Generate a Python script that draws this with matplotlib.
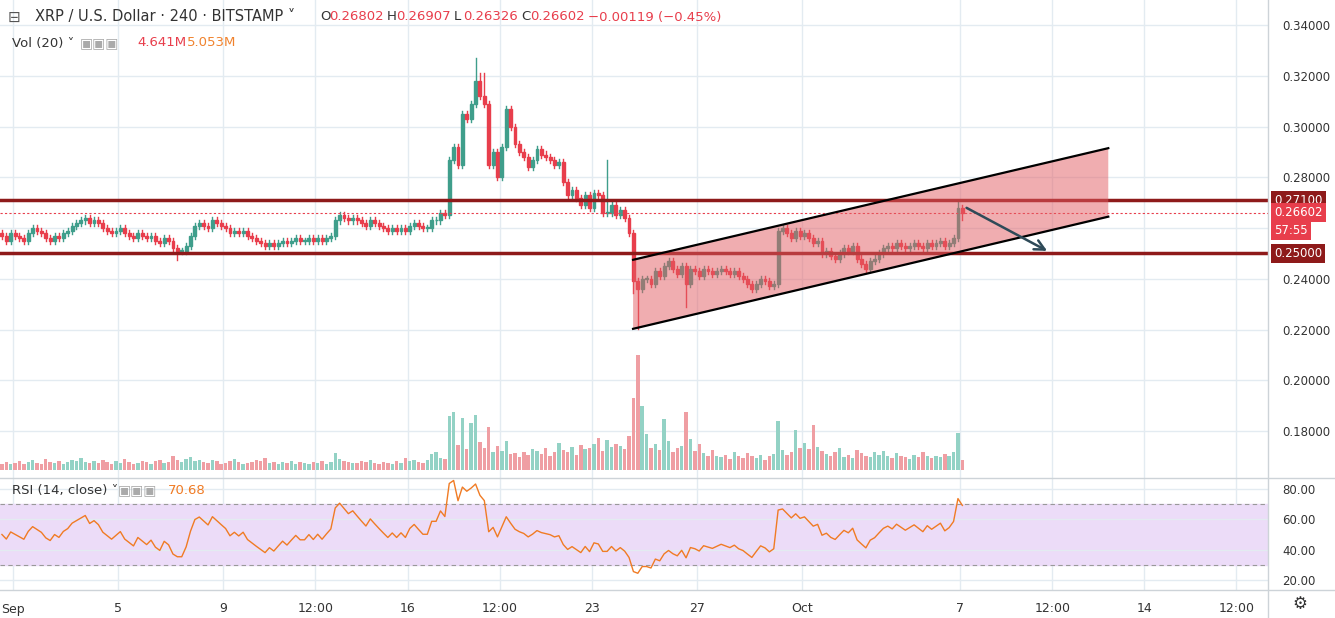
import numpy as np
import matplotlib
matplotlib.use("Agg")
import matplotlib.pyplot as plt
from matplotlib.patches import Rectangle, Polygon

# ---- data: 4h closes starting Aug 31 12:00 ----
closes = [
 0.257, 0.255, 0.258,
 0.257,0.256,0.255,0.258,0.260,0.259,
 0.258,0.256,0.255,0.257,0.256,0.258,
 0.259,0.261,0.262,0.263,0.264,0.262,
 0.263,0.262,0.260,0.259,0.258,0.259,
 0.260,0.258,0.257,0.256,0.258,0.257,
 0.256,0.257,0.255,0.254,0.256,0.255,
 0.252,0.251,0.251,0.253,0.257,0.261,
 0.262,0.261,0.260,0.263,0.262,0.261,
 0.260,0.258,0.259,0.258,0.259,0.257,
 0.256,0.255,0.254,0.253,0.254,0.253,
 0.254,0.255,0.254,0.255,0.256,0.255,
 0.255,0.256,0.255,0.256,0.255,0.256,
 0.257,0.263,0.265,0.264,0.263,0.264,
 0.263,0.262,0.261,0.263,0.262,0.261,
 0.260,0.259,0.260,0.259,0.260,0.259,
 0.261,0.262,0.261,0.260,0.260,0.263,
 0.263,0.266,0.265,0.287,0.292,0.285,
 0.305,0.303,0.309,0.318,0.312,0.309,
 0.285,0.290,0.280,0.292,0.307,0.300,
 0.293,0.290,0.288,0.284,0.287,0.291,
 0.289,0.288,0.287,0.285,0.286,0.278,
 0.273,0.275,0.272,0.269,0.273,0.268,
 0.274,0.273,0.266,0.266,0.269,0.265,
 0.267,0.264,0.258,0.239,0.236,0.240,
 0.240,0.238,0.243,0.241,0.245,0.247,
 0.244,0.242,0.245,0.238,0.244,0.243,
 0.241,0.244,0.243,0.242,0.243,0.244,
 0.243,0.242,0.243,0.241,0.240,0.238,
 0.236,0.238,0.240,0.239,0.237,0.238,
 0.259,0.260,0.258,0.256,0.259,0.257,
 0.258,0.256,0.254,0.255,0.250,0.251,
 0.249,0.248,0.250,0.252,0.251,0.253,
 0.248,0.246,0.244,0.247,0.248,0.250,
 0.252,0.253,0.252,0.254,0.253,0.252,
 0.253,0.254,0.253,0.252,0.254,0.253,
 0.254,0.255,0.253,0.254,0.256,0.268,
 0.26602,
]
first_open = 0.258
last_open = 0.26802
# notable wicks: index -> (high, low)
wick_overrides = {40: (None, 0.2475), 108: (0.327, None), 109: (0.321, None),
                  110: (0.321, None), 138: (0.287, None), 144: (None, 0.2345),
                  145: (None, 0.2203), 156: (None, 0.229), 218: (0.271, None),
                  219: (0.26907, 0.26326)}
default_wick = 0.0012

volumes = [
 0.8, 1.0, 0.7,
 0.9,1.1,0.8,1.0,1.3,0.9,
 0.8,1.4,1.0,0.9,1.1,0.8,
 1.0,1.3,1.1,1.5,1.0,0.9,
 1.1,0.9,1.2,1.0,0.8,1.1,
 0.9,1.4,1.0,0.8,0.9,1.1,
 1.0,0.8,1.1,1.3,0.9,1.0,
 1.8,1.2,1.0,1.4,1.6,1.1,
 1.3,1.0,0.9,1.2,1.1,0.8,
 0.9,1.1,1.4,1.0,0.8,0.9,
 1.0,1.3,1.1,1.5,0.9,1.0,
 0.8,1.0,0.9,1.1,0.8,1.0,
 0.9,0.8,1.0,0.9,1.1,0.8,
 1.0,2.1,1.4,1.1,1.0,0.9,
 0.9,1.1,1.0,1.2,0.9,0.8,
 1.0,0.9,0.8,1.1,0.9,1.5,
 1.1,1.3,1.0,0.9,1.2,2.0,
 2.2,1.5,1.4,6.8,7.2,3.1,
 6.5,2.6,5.9,6.9,3.5,2.8,
 5.4,2.2,3.0,2.4,3.6,2.0,
 2.1,1.6,2.3,1.9,2.6,2.4,
 2.0,2.7,1.8,2.3,3.4,2.5,
 2.2,2.9,1.9,3.1,2.6,2.8,
 3.2,4.0,2.4,3.7,2.9,3.3,
 3.0,2.6,4.2,9.0,14.4,8.0,
 4.5,2.8,3.3,2.5,6.4,3.6,
 2.2,2.8,3.0,7.2,3.9,2.4,
 3.2,2.1,1.7,2.5,1.8,1.6,
 1.9,1.4,2.2,1.7,1.5,2.1,
 1.8,1.5,1.9,1.3,1.7,2.0,
 6.1,2.5,1.9,2.3,5.0,2.7,
 3.4,2.6,5.6,2.9,2.4,2.0,
 1.8,2.2,2.7,1.6,1.9,1.5,
 2.5,2.1,1.8,1.6,2.2,1.9,
 2.4,1.7,1.5,2.1,1.8,1.6,
 1.4,1.9,1.6,2.2,1.7,1.5,
 1.8,1.6,2.0,1.7,2.3,4.6,
 1.2,
]

price_ticks = [0.18, 0.20, 0.22, 0.24, 0.28, 0.30, 0.32, 0.34]
date_tick_pos = [0, 4, 8, 11.5, 15, 18.5, 22, 26, 30, 36, 39.5, 43, 46.5]
date_tick_labels = ["Sep", "5", "9", "12:00", "16", "12:00", "23", "27", "Oct", "7", "12:00", "14", "12:00"]
support, resistance, last_price = 0.250, 0.271, 0.26602
channel_upper = [(23.57, 0.2475), (41.63, 0.2915)]
channel_lower = [(23.57, 0.2203), (41.63, 0.2645)]
arrow_pts = [(36.15, 0.2685), (39.4, 0.2505)]

# ---- derived ----
n = len(closes)
t = -0.5 + np.arange(n) / 6.0 + 1/12
opens = [first_open] + closes[:-1]
opens[-1] = last_open
c = np.array(closes); o = np.array(opens)
delta = np.diff(np.concatenate([[first_open], c]))
gain = np.clip(delta, 0, None); loss = np.clip(-delta, 0, None)
ag = np.zeros(n); al = np.zeros(n)
ag[0] = 0.0012; al[0] = 0.0012
for i in range(1, n):
    ag[i] = (ag[i-1]*13 + gain[i]) / 14
    al[i] = (al[i-1]*13 + loss[i]) / 14
rsi = 100 - 100 / (1 + ag / np.maximum(al, 1e-9))

GREEN, RED = "#3f9e8b", "#e83e4c"
GRID = "#e3ebf1"
DARKRED = "#8e1a1a"

fig = plt.figure(figsize=(13.35, 6.18), dpi=100)
ax = fig.add_axes([0, 1-478/618, 1268/1335, 478/618])
axr = fig.add_axes([0, 1-590/618, 1268/1335, 111/618])
xlim = (-0.49, 47.7)

# volume (twin first, then restore right ticks on ax)
axv = ax.twinx()
axv.set_ylim(-1.0, 58.75)
axv.axis("off")

for a in (ax, axr):
    a.set_xlim(*xlim)
    for p in date_tick_pos:
        a.axvline(p, color=GRID, lw=1, zorder=0)
    for s in a.spines.values():
        s.set_visible(False)
    a.tick_params(length=0)
axv.set_xlim(*xlim)
ax.set_ylim(0.1615, 0.3499)
for p in price_ticks + [0.26]:
    ax.axhline(p, color=GRID, lw=1, zorder=0)
ax.yaxis.tick_right()
ax.set_yticks(price_ticks)
ax.set_yticklabels([f"{p:.5f}" for p in price_ticks], fontsize=8.5, color="#333")
ax.tick_params(axis="y", pad=10, length=0, labelright=True, labelleft=False)
ax.set_xticks([])
fig.add_artist(plt.Line2D([1268/1335]*2, [0, 1], color="#cdd3d8", lw=1, transform=fig.transFigure))
fig.add_artist(plt.Line2D([0, 1], [1-478/618]*2, color="#cdd3d8", lw=1, transform=fig.transFigure))
fig.add_artist(plt.Line2D([0, 1], [1-590/618]*2, color="#cdd3d8", lw=1, transform=fig.transFigure))

vcol = ["#93d2c5" if c[i] >= o[i] else "#ef9ea3" for i in range(n)]
axv.bar(t, volumes, width=0.13, color=vcol, zorder=1)

# candles
w = 0.11
for i in range(n):
    col = GREEN if c[i] >= o[i] else RED
    hi = max(o[i], c[i]) + default_wick
    lo = min(o[i], c[i]) - default_wick
    if i in wick_overrides:
        h2, l2 = wick_overrides[i]
        hi = h2 if h2 else hi
        lo = l2 if l2 else lo
    ax.plot([t[i], t[i]], [lo, hi], color=col, lw=1, zorder=3)
    b = min(o[i], c[i]); hgt = max(abs(c[i]-o[i]), 0.0003)
    ax.add_patch(Rectangle((t[i]-w/2, b), w, hgt, color=col, zorder=3))

# horizontal levels
ax.axhline(resistance, color=DARKRED, lw=2.5, zorder=5)
ax.axhline(support, color=DARKRED, lw=2.5, zorder=5)
ax.axhline(last_price, color=RED, lw=0.8, ls=(0, (2, 2)), zorder=4)

# channel
poly = [channel_upper[0], channel_upper[1], channel_lower[1], channel_lower[0]]
ax.add_patch(Polygon(poly, closed=True, facecolor="#e35d63", alpha=0.5, edgecolor="none", zorder=6))
ax.plot(*zip(*channel_upper), color="black", lw=1.6, zorder=7)
ax.plot(*zip(*channel_lower), color="black", lw=1.6, zorder=7)
ax.annotate("", xy=arrow_pts[1], xytext=arrow_pts[0],
            arrowprops=dict(arrowstyle="->", color="#2e4a58", lw=1.8, mutation_scale=18), zorder=8)

# price labels
def plabel(y, txt, col):
    ax.text(1.005, y, txt, transform=ax.get_yaxis_transform(), fontsize=8.5, color="white",
            va="center", ha="left", bbox=dict(boxstyle="square,pad=0.25", fc=col, ec="none"), zorder=10, clip_on=False)
plabel(resistance, "0.27100", DARKRED)
plabel(last_price, "0.26602", RED)
plabel(0.2592, "57:55", RED)
plabel(support, "0.25000", DARKRED)

# header
fig.text(35/1335, 1-17/618, "XRP / U.S. Dollar · 240 · BITSTAMP \u02c5", fontsize=10.5, color="#333", va="center")
fig.text(8/1335, 1-17/618, "\u229f", fontsize=11, color="#555", va="center")
xs = 320
for lab, val in [("O", "0.26802"), ("H", "0.26907"), ("L", "0.26326"), ("C", "0.26602"), ("", "\u22120.00119 (\u22120.45%)")]:
    fig.text(xs/1335, 1-17/618, lab, fontsize=9.5, color="#333", va="center")
    xs += 9 if lab else 0
    fig.text(xs/1335, 1-17/618, val, fontsize=9.5, color=RED, va="center")
    xs += 58 if lab else 0
fig.text(12/1335, 1-43/618, "Vol (20) \u02c5", fontsize=9.5, color="#333", va="center")
fig.text(80/1335, 1-43/618, "\u25a3\u25a3\u25a3", fontsize=10, color="#aaa", va="center")
fig.text(137/1335, 1-43/618, "4.641M", fontsize=9.5, color=RED, va="center")
fig.text(187/1335, 1-43/618, "5.053M", fontsize=9.5, color="#f0822d", va="center")

# RSI panel
axr.set_ylim(13.4, 86.6)
axr.axhspan(30, 70, color="#ecdcf8", zorder=0)
for p in (20, 40, 60, 80):
    axr.axhline(p, color=GRID, lw=1, zorder=1)
axr.axhline(70, color="#999", lw=0.8, ls=(0, (4, 3)), zorder=2)
axr.axhline(30, color="#999", lw=0.8, ls=(0, (4, 3)), zorder=2)
axr.plot(t, rsi, color="#f07b24", lw=1, zorder=3)
axr.yaxis.tick_right()
axr.set_yticks([20, 40, 60, 80])
axr.set_yticklabels(["20.00", "40.00", "60.00", "80.00"], fontsize=8.5, color="#333")
axr.tick_params(axis="y", pad=10)
axr.set_xticks(date_tick_pos)
axr.set_xticklabels(date_tick_labels, fontsize=9, color="#333")
axr.tick_params(axis="x", pad=9)
axr.text(12/1268, 0.9, "RSI (14, close) \u02c5", transform=axr.transAxes, fontsize=9.5, color="#333", va="center")
axr.text(118/1268, 0.9, "\u25a3\u25a3\u25a3", transform=axr.transAxes, fontsize=10, color="#aaa", va="center")
axr.text(168/1268, 0.9, "70.68", transform=axr.transAxes, fontsize=9.5, color="#f07b24", va="center")
fig.text(1300/1335, 1-604/618, "\u2699", fontsize=12, color="#333", va="center", ha="center")

fig.savefig("out.png", dpi=100)
